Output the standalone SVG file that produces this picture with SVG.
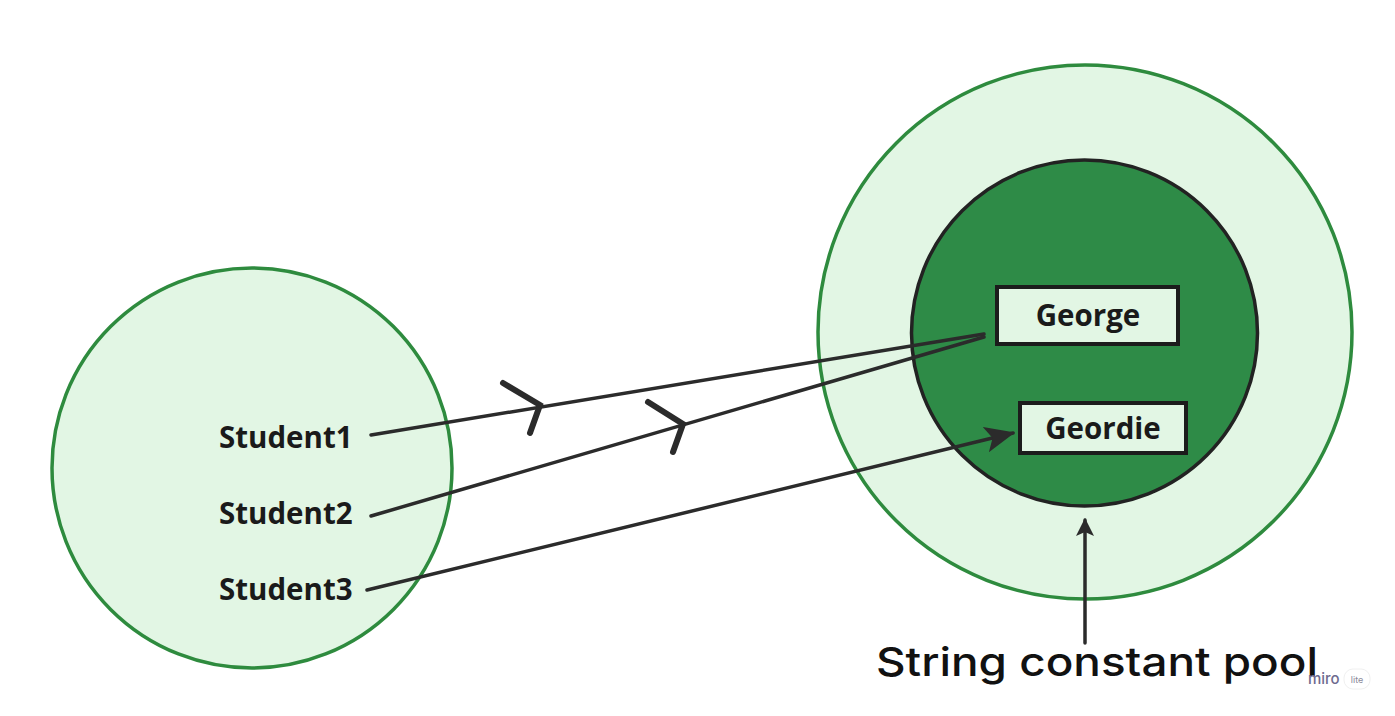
<svg xmlns="http://www.w3.org/2000/svg" width="1395" height="716" viewBox="0 0 1395 716">
<style>
.lbl{font-family:"Open Sans","Noto Sans",sans-serif;font-weight:700;font-size:29.5px;fill:#1a1a1a}
.ln{stroke:#2b2b2b;stroke-width:3.5;fill:none;stroke-linecap:round;stroke-linejoin:round}
.chev{stroke:#2b2b2b;stroke-width:6;fill:none;stroke-linecap:round;stroke-linejoin:miter}
.box{fill:#e2f6e4;stroke:#1c1c1c;stroke-width:4}
</style>
<defs>
<marker id="big" viewBox="0 0 30 26" markerWidth="30" markerHeight="26" refX="28" refY="13" orient="auto" markerUnits="userSpaceOnUse">
<path d="M0,0 L30,13 L0,26 L7,13 Z" fill="#2b2b2b"/>
</marker>
<marker id="up" viewBox="0 0 18 24" markerWidth="18" markerHeight="24" refX="16" refY="9" orient="auto" markerUnits="userSpaceOnUse">
<path d="M0,0 L18,9 L0,18 L4,9 Z" fill="#2b2b2b"/>
</marker>
</defs>
<rect width="1395" height="716" fill="#ffffff"/>
<g id="heap-left">
<circle cx="252" cy="468" r="200" fill="#e2f6e4" stroke="#2e8b3e" stroke-width="3.5"/>
<text class="lbl" x="219" y="448">Student1</text>
<text class="lbl" x="219" y="524">Student2</text>
<text class="lbl" x="219" y="600">Student3</text>
</g>
<g id="heap-right">
<circle cx="1085" cy="332" r="267" fill="#e2f6e4" stroke="#2e8b3e" stroke-width="3.5"/>
</g>
<g id="pool">
<circle cx="1084.5" cy="333" r="173" fill="#2e8b47" stroke="#222" stroke-width="3.5"/>
</g>
<g id="george">
<rect class="box" x="997" y="287" width="181" height="57"/>
<text class="lbl" x="1088" y="326" text-anchor="middle">George</text>
</g>
<g id="geordie">
<rect class="box" x="1020" y="403" width="166" height="50"/>
<text class="lbl" x="1103" y="439" text-anchor="middle">Geordie</text>
</g>
<g id="connectors">
<path class="ln" d="M371,435 L984,334"/>
<path class="chev" d="M503,383 L540,405 L530,433"/>
<path class="ln" d="M371,516 L984,337"/>
<path class="chev" d="M648,402 L683,424 L673,452"/>
<path class="ln" d="M367,590 L1013,433" marker-end="url(#big)"/>
<path class="ln" d="M1085,643 L1085,520" marker-end="url(#up)"/>
</g>
<g id="caption">
<text x="876" y="676" font-family="Inter,'Noto Sans',sans-serif" font-weight="500" font-size="40" fill="#111" textLength="442" lengthAdjust="spacingAndGlyphs">String constant pool</text>
</g>
<g id="watermark">
<text x="1308" y="684" font-family="Inter,'Noto Sans',sans-serif" font-size="15" font-weight="500" fill="#6e6b8f">miro</text>
<rect x="1344" y="669" width="26" height="20" rx="9" fill="#ffffff" stroke="#f0f0f0"/>
<text x="1357" y="683" text-anchor="middle" font-family="Inter,'Noto Sans',sans-serif" font-size="9" fill="#8a8a9a">lite</text>
</g>
</svg>
